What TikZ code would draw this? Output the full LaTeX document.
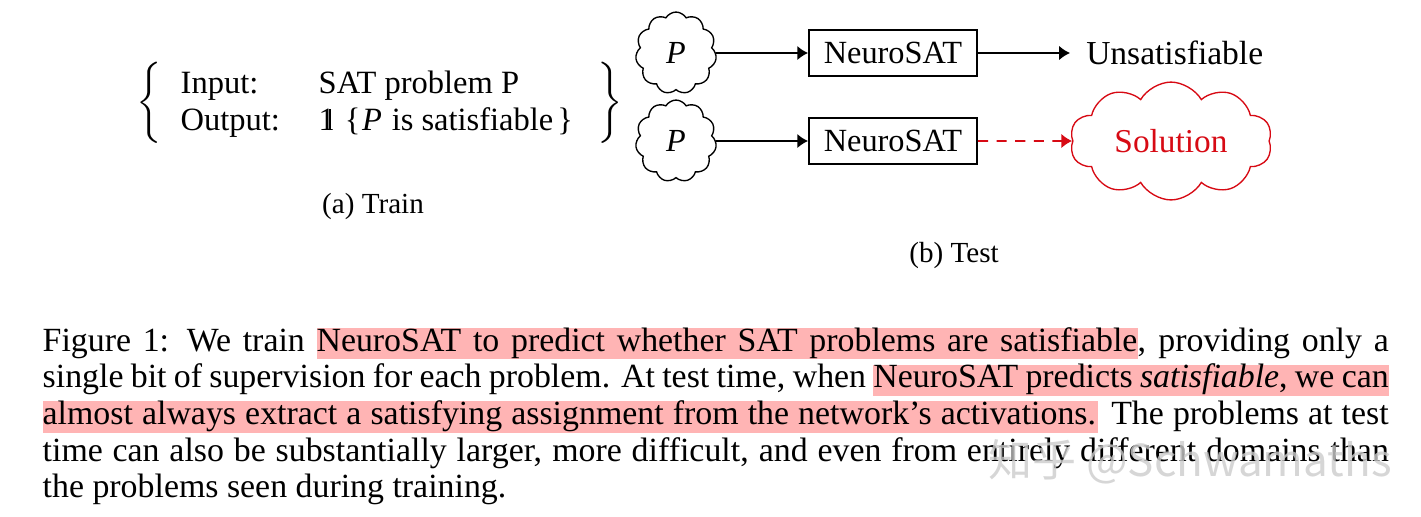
\documentclass[tikz,border=0pt]{standalone}
\usepackage{fontspec}
\setmainfont{Liberation Serif}
\newfontfamily\cjkfont{Noto Sans CJK SC}
\usetikzlibrary{shapes.symbols,arrows.meta}
\definecolor{hlpink}{RGB}{255,180,180}
\definecolor{solred}{RGB}{215,10,20}
\newcommand\hlw[1]{\begingroup\setbox0\hbox{#1}\rlap{\color{hlpink}\vrule height 6.8pt depth 2.4pt width \wd0}\box0\endgroup}
\newcommand\hls{{\color{hlpink}\leaders\vrule height 6.8pt depth 2.4pt\hskip\fontdimen2\font plus\fontdimen3\font minus\fontdimen4\font}}
\def\hl#1{\hlloop#1 \hlend}
\def\hlloop#1 #2\hlend{\hlw{#1}\ifx\relax#2\relax\else\hls\hlloop#2\hlend\fi}
\newcommand\dsone{\rlap{1}\kern0.33em\rlap{\vrule height 0.64em depth 0pt width 0.035em}\kern0.2em}
\tikzset{
  capline/.style={anchor=base west, inner sep=0pt, font=\fontsize{10}{11}\selectfont},
  figtxt/.style={anchor=base west, inner sep=0pt, font=\fontsize{9.6}{11}\selectfont},
  subcap/.style={anchor=base, inner sep=0pt, font=\fontsize{8.6}{10}\selectfont},
  pcloud/.style={cloud, cloud puffs=11, cloud puff arc=120, cloud ignores aspect, draw, line width=0.4pt,
    minimum width=23.9pt, minimum height=24.2pt, inner sep=0pt, font=\fontsize{9.5}{11}\selectfont\itshape},
  scloud/.style={cloud, cloud puffs=10, cloud puff arc=120, cloud ignores aspect, draw=solred, text=solred, line width=0.4pt,
    minimum width=59.7pt, minimum height=34.8pt, inner sep=0pt, font=\fontsize{9.85}{11}\selectfont},
  nsbox/.style={draw, line width=0.55pt, minimum width=49.6pt, minimum height=13.6pt, inner sep=0pt,
    font=\fontsize{9.55}{11}\selectfont},
  arr/.style={line width=0.55pt, -{Latex[length=3.2pt,width=4.3pt]}},
  wm/.style={inner sep=0pt, font=\cjkfont\fontsize{13}{14}\selectfont, text=gray!40, text opacity=0.8}
}
\begin{document}
\begin{tikzpicture}[x=0.2953pt, y=-0.2953pt]
\useasboundingbox (0,0) rectangle (1421,516);
% (a) Train
\node (lb) at (151,103) {$\left\{\vcenter{\hrule height 26pt width 0pt}\right.$};
\node (rb) at (608,103) {$\left.\vcenter{\hrule height 26pt width 0pt}\right\}$};
\node[figtxt] (in) at (180,93) {Input:};
\node[figtxt] (inv) at (318,93) {SAT problem P};
\node[figtxt] (out) at (180,130) {Output:};
\node[figtxt] (outv) at (318,130) {\dsone\;\{\kern0.05em\textit{P}\kern0.05em{} is satisfiable\kern0.12em\}};
\node[subcap] (capa) at (373,213) {(a) Train};
% (b) Test
\node[pcloud] (p1) at (676,53) {P};
\node[pcloud] (p2) at (676,141) {P};
\node[nsbox] (ns1) at (893,53) {NeuroSAT};
\node[nsbox] (ns2) at (893,141) {NeuroSAT};
\node[anchor=west, inner xsep=4.6pt, inner ysep=0pt, font=\fontsize{9.9}{11}\selectfont] (unsat) at (1070,53) {Unsatisfiable};
\node[scloud] (sol) at (1171,141) {Solution};
\draw[arr] (p1) -- (ns1);
\draw[arr] (p2) -- (ns2);
\draw[arr] (ns1) -- (unsat);
\draw[arr, solred, dash pattern=on 3pt off 2.5pt] (ns2) -- (sol);
\node[subcap] (capb) at (954,262) {(b) Test};
% caption
\node[capline] (l1) at (42,351) {\hbox to 397.5pt{Figure 1: We train \hl{NeuroSAT to predict whether SAT problems are satisfiable}, providing only a}};
\node[capline] (l2) at (42,387.7) {\hbox to 397.5pt{single bit of supervision for each problem. At test time, when \hl{NeuroSAT predicts \textit{satisfiable}, we can}}};
\node[capline] (l3) at (42,424.4) {\hbox to 397.5pt{\hl{almost always extract a satisfying assignment from the network’s activations.}\hlw{\hskip0.6pt}\spacefactor3000{} The problems at test}};
\node[capline] (l4) at (42,461.1) {\hbox to 397.5pt{time can also be substantially larger, more difficult, and even from entirely different domains than}};
\node[capline] (l5) at (42,497.8) {the problems seen during training.};
% watermark
\node[wm] (mark) at (1190,462) {知乎 @Schwamaths};
\end{tikzpicture}
\end{document}
